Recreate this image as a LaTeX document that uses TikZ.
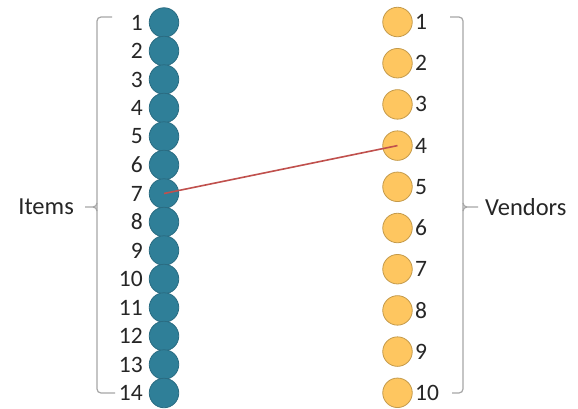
\documentclass[tikz,border=0pt]{standalone}
\usepackage{fontspec}
\setmainfont{Carlito}
\definecolor{tealfill}{HTML}{2F7F98}
\definecolor{tealline}{HTML}{2A6C82}
\definecolor{yelfill}{HTML}{FEC660}
\definecolor{yelline}{HTML}{C49A4A}
\definecolor{linkred}{HTML}{C0504D}
\definecolor{txt}{HTML}{262626}
\definecolor{brk}{HTML}{A6A6A6}
\begin{document}
\begin{tikzpicture}[x=1pt,y=-1pt,
  itemdot/.style={circle,minimum size=29.5pt,inner sep=0pt,fill=tealfill,draw=tealline,line width=0.8pt},
  vendot/.style={circle,minimum size=29.5pt,inner sep=0pt,fill=yelfill,draw=yelline,line width=0.8pt},
  numlab/.style={font=\fontsize{23.5}{23.5}\selectfont,text=txt,inner sep=0pt},
  sidelab/.style={font=\fontsize{24.5}{24.5}\selectfont,text=txt,inner sep=0pt},
  bracket/.style={draw=brk,line width=1.2pt,rounded corners=4pt}]
\useasboundingbox[fill=white] (0,0) rectangle (578,408);
% items
\foreach \i in {1,...,14}{
  \pgfmathsetmacro{\yy}{22.5+(\i-1)*28.5}
  \node[itemdot] (it\i) at (164,\yy) {};
  \node[numlab,anchor=east] (itn\i) at (143,\yy) {\i};
}
% vendors
\foreach \j in {1,...,10}{
  \pgfmathsetmacro{\yy}{22+(\j-1)*41.2}
  \node[vendot] (v\j) at (397.5,\yy) {};
  \node[numlab,anchor=west] (vn\j) at (415,\yy) {\j};
}
% labels
\node[sidelab,anchor=east] (items) at (74,207) {Items};
\node[sidelab,anchor=west] (vendors) at (485,207) {Vendors};
% brackets
\coordinate (lt) at (112,17);
\coordinate (lb) at (115,393);
\coordinate (lm) at (85,207);
\draw[bracket] (lt) -- (97,17) -- (97,207);
\draw[bracket] (97,207) -- (97,393) -- (lb);
\draw[draw=brk,line width=1.2pt] (lm) -- (93,207) to[out=0,in=90] (97,211);
\draw[draw=brk,line width=1.2pt] (93,207) to[out=0,in=-90] (97,203);
\coordinate (rt) at (450,17);
\coordinate (rb) at (452,393);
\coordinate (rm) at (478,207);
\draw[bracket] (rt) -- (463,17) -- (463,207);
\draw[bracket] (463,207) -- (463,393) -- (rb);
\draw[draw=brk,line width=1.2pt] (rm) -- (467,207) to[out=180,in=90] (463,211);
\draw[draw=brk,line width=1.2pt] (467,207) to[out=180,in=-90] (463,203);
% link
\draw[linkred,line width=1.6pt] (it7.center) -- (v4.center);
\end{tikzpicture}
\end{document}
